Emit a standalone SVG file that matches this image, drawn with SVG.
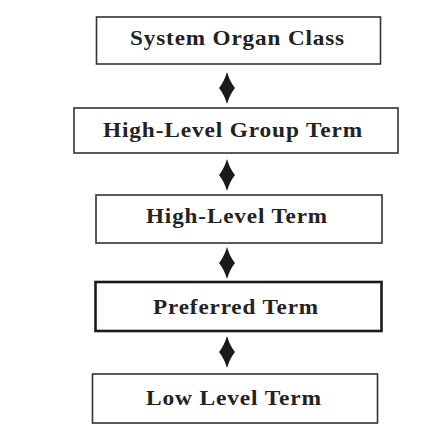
<svg xmlns="http://www.w3.org/2000/svg" width="439" height="437" viewBox="0 0 439 437">
<style>
.box{fill:#fff;stroke:#333;stroke-width:1.6}
.thick{stroke:#1a1a1a;stroke-width:2.6}
.lbl{font-family:"Liberation Serif","Times New Roman",serif;font-weight:bold;font-size:21.5px;fill:#222;letter-spacing:0.8px}
.dia{fill:#1a1a1a}
</style>
<rect width="439" height="437" fill="#fff"/>
<g id="soc"><rect class="box" x="96.5" y="17" width="284" height="47"/><text class="lbl" x="130" y="44.5" textLength="215" lengthAdjust="spacingAndGlyphs">System Organ Class</text></g>
<g id="hlgt"><rect class="box" x="74" y="108" width="324" height="45"/><text class="lbl" x="103" y="137" textLength="260" lengthAdjust="spacingAndGlyphs">High-Level Group Term</text></g>
<g id="hlt"><rect class="box" x="96" y="195" width="286" height="48"/><text class="lbl" x="146" y="223" textLength="182" lengthAdjust="spacingAndGlyphs">High-Level Term</text></g>
<g id="pt"><rect class="box thick" x="95.5" y="282" width="286" height="49"/><text class="lbl" x="153" y="314" textLength="166" lengthAdjust="spacingAndGlyphs">Preferred Term</text></g>
<g id="llt"><rect class="box" x="92.5" y="374" width="285" height="49"/><text class="lbl" x="146" y="405" textLength="176" lengthAdjust="spacingAndGlyphs">Low Level Term</text></g>
<g id="connectors">
<path class="dia" d="M227,72 Q230,82 235,88 Q230,94 227,104 Q224,94 219,88 Q224,82 227,72Z"/>
<path class="dia" d="M227,159 Q230,169 235,175 Q230,181 227,191 Q224,181 219,175 Q224,169 227,159Z"/>
<path class="dia" d="M227,247 Q230,257 235,263 Q230,269 227,279 Q224,269 219,263 Q224,257 227,247Z"/>
<path class="dia" d="M227,336 Q230,346 235,352 Q230,358 227,368 Q224,358 219,352 Q224,346 227,336Z"/>
</g>
</svg>
